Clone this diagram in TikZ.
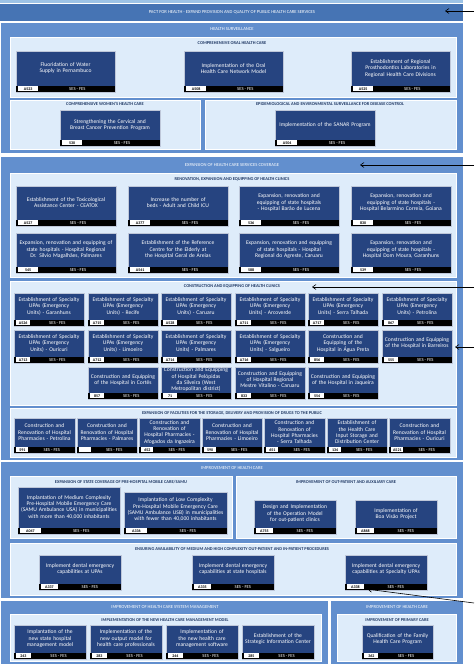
\documentclass[tikz,border=0pt]{standalone}
\usepackage{fontspec}
\setmainfont{Carlito}
\usetikzlibrary{calc,arrows.meta}
\hyphenpenalty=10000
\exhyphenpenalty=10000

\definecolor{topstrip}{RGB}{157,195,230}
\definecolor{titlebar}{RGB}{70,116,180}
\definecolor{outerblue}{RGB}{98,143,206}
\definecolor{lightblue}{RGB}{222,236,250}
\definecolor{actblue}{RGB}{38,68,128}
\definecolor{navy}{RGB}{31,56,100}

\tikzset{
    outerbox/.style={fill=outerblue},
    lightbox/.style={fill=lightblue, draw=white, line width=0.4pt},
    headtext/.style={text=white, font=\fontsize{4.6}{5}\selectfont, inner sep=0pt},
    grouptitle/.style={text=navy, font=\bfseries\fontsize{4.4}{5}\selectfont, inner sep=0pt},
    actbox/.style={fill=actblue, draw=white!70!actblue, line width=0.3pt, inner sep=0pt, outer sep=0pt},
    codestrip/.style={fill=black, inner sep=0pt, outer sep=0pt, minimum height=6.5pt},
    acttext/.style={text=white, align=center, inner sep=0pt, font=\fontsize{5.6}{6.3}\selectfont},
    codebox/.style={fill=white, text=black, inner sep=0pt, minimum height=4.6pt,
        font=\bfseries\fontsize{4}{4}\selectfont},
    sestext/.style={text=white, font=\fontsize{4.6}{5}\selectfont, inner sep=0pt},
    pointer/.style={draw=black, line width=0.6pt, -{Straight Barb[length=3.5pt,width=5pt]}}
}

% action box: name, x1, y1, x2, y2, text, code
\newcommand{\actbox}[7]{%
    \pgfmathsetmacro\bw{#4-#2}%
    \pgfmathsetmacro\bh{#5-#3}%
    \pgfmathsetmacro\tw{#4-#2-4}%
    \pgfmathsetmacro\cw{0.2*(#4-#2)}%
    \node[actbox, minimum width=\bw pt, minimum height=\bh pt, anchor=north west] (#1) at (#2,#3) {};
    \node[codestrip, minimum width=\bw pt, anchor=south] (#1-strip) at (#1.south) {};
    \node[acttext, text width=\tw pt] (#1-text) at ($(#1.north)!0.5!(#1-strip.north)$) {#6};
    \node[codebox, minimum width=\cw pt, anchor=west] (#1-code) at ([xshift=2pt]#1-strip.west) {#7};
    \node[sestext] (#1-ses) at ($(#1-strip.west)!0.62!(#1-strip.east)$) {SES - FES};
}

\begin{document}
\begin{tikzpicture}[x=1pt, y=-1pt]
    \useasboundingbox[fill=white] (0,0) rectangle (474,669);

    % title
    \fill[topstrip] (0,0) rectangle (463,3);
    \fill[titlebar] (0,4) rectangle (463,21);
    \node[headtext] (pact) at (232,12) {PACT FOR HEALTH - EXPAND PROVISION AND QUALITY OF PUBLIC HEALTH CARE SERVICES};

    % health surveillance
    \fill[outerbox] (1,23) rectangle (463,153);
    \node[headtext] (surv) at (232,29) {HEALTH SURVEILLANCE};
    \filldraw[lightbox] (10,37) rectangle (456,97);
    \node[grouptitle] (oral) at (232,43) {COMPREHENSIVE ORAL HEALTH CARE};
    \actbox{oral1}{16}{51}{115}{92}{Fluoridation of Water Supply in Pernambuco}{A523}
    \actbox{oral2}{184}{51}{283}{92}{Implementation of the Oral Health Care Network Model}{A508}
    \actbox{oral3}{351}{51}{450}{92}{Establishment of Regional Prosthodontics Laboratories in Regional Health Care Divisions}{A525}
    \filldraw[lightbox] (10,100) rectangle (200,149);
    \node[grouptitle] (women) at (105,104) {COMPREHENSIVE WOMEN'S HEALTH CARE};
    \actbox{women1}{60}{110}{160}{146}{Strengthening the Cervical and Breast Cancer Prevention Program}{530}
    \filldraw[lightbox] (205,100) rectangle (456,149);
    \node[grouptitle] (epi) at (330,104) {EPIDEMIOLOGICAL AND ENVIRONMENTAL SURVEILLANCE FOR DISEASE CONTROL};
    \actbox{epi1}{275}{110}{375}{146}{Implementation of the SANAR Program}{A504}

    % expansion of coverage
    \fill[outerbox] (1,157) rectangle (463,460);
    \node[headtext] (cover) at (232,165) {EXPANSION OF HEALTH CARE SERVICES COVERAGE};
    \filldraw[lightbox] (10,173) rectangle (456,277);
    \node[grouptitle] (reno) at (232,179) {RENOVATION, EXPANSION AND EQUIPPING OF HEALTH CLINICS};
    \actbox{reno1}{16}{186}{116}{226}{Establishment of the Toxicological Assistance Center - CEATOX}{A527}
    \actbox{reno2}{128}{186}{228}{226}{Increase the number of beds - Adult and Child ICU}{A377}
    \actbox{reno3}{239}{186}{339}{226}{Expansion, renovation and equipping of state hospitals - Hospital Barão de Lucena}{536}
    \actbox{reno4}{351}{186}{451}{226}{Expansion, renovation and equipping of state hospitals - Hospital Belarmino Correia, Goiana}{830}
    \actbox{reno5}{16}{233}{116}{273}{Expansion, renovation and equipping of state hospitals - Hospital Regional Dr. Sílvio Magalhães, Palmares}{545}
    \actbox{reno6}{128}{233}{228}{273}{Establishment of the Reference Centre for the Elderly at the Hospital Geral de Areias}{A541}
    \actbox{reno7}{239}{233}{339}{273}{Expansion, renovation and equipping of state hospitals - Hospital Regional do Agreste, Caruaru}{588}
    \actbox{reno8}{351}{233}{451}{273}{Expansion, renovation and equipping of state hospitals - Hospital Dom Moura, Garanhuns}{539}

    \filldraw[lightbox] (10,281) rectangle (456,405);
    \node[grouptitle] (cons) at (232,286) {CONSTRUCTION AND EQUIPPING OF HEALTH CLINICS};
    \actbox{cons1}{14}{293}{84}{326}{Establishment of Specialty UPAs (Emergency Units) - Garanhuns}{A526}
    \actbox{cons2}{88}{293}{158}{326}{Establishment of Specialty UPAs (Emergency Units) - Recife}{A715}
    \actbox{cons3}{161}{293}{231}{326}{Establishment of Specialty UPAs (Emergency Units) - Caruaru}{A528}
    \actbox{cons4}{235}{293}{305}{326}{Establishment of Specialty UPAs (Emergency Units) - Arcoverde}{A711}
    \actbox{cons5}{308}{293}{378}{326}{Establishment of Specialty UPAs (Emergency Units) - Serra Talhada}{A717}
    \actbox{cons6}{382}{293}{452}{326}{Establishment of Specialty UPAs (Emergency Units) - Petrolina}{867}
    \actbox{cons7}{14}{330}{84}{363}{Establishment of Specialty UPAs (Emergency Units) - Ouricuri}{A713}
    \actbox{cons8}{88}{330}{158}{363}{Establishment of Specialty UPAs (Emergency Units) - Limoeiro}{A712}
    \actbox{cons9}{161}{330}{231}{363}{Establishment of Specialty UPAs (Emergency Units) - Palmares}{A714}
    \actbox{cons10}{235}{330}{305}{363}{Establishment of Specialty UPAs (Emergency Units) - Salgueiro}{A716}
    \actbox{cons11}{308}{330}{378}{363}{Construction and Equipping of the Hospital in Água Preta}{856}
    \actbox{cons12}{382}{330}{452}{363}{Construction and Equipping of the Hospital in Barreiros}{555}
    \actbox{cons13}{88}{367}{158}{399}{Construction and Equipping of the Hospital in Cortês}{857}
    \actbox{cons14}{161}{367}{231}{399}{Construction and Equipping of Hospital Pelópidas da Silveira (West Metropolitan district)}{71}
    \actbox{cons15}{235}{367}{305}{399}{Construction and Equipping of Hospital Regional Mestre Vitalino - Caruaru}{833}
    \actbox{cons16}{308}{367}{378}{399}{Construction and Equipping of the Hospital in Jaqueira}{554}

    \filldraw[lightbox] (10,408) rectangle (456,457);
    \node[grouptitle] (drugs) at (232,413) {EXPANSION OF FACILITIES FOR THE STORAGE, DELIVERY AND PROVISION OF DRUGS TO THE PUBLIC};
    \actbox{drug1}{14}{418}{75}{453}{Construction and Renovation of Hospital Pharmacies - Petrolina}{591}
    \actbox{drug2}{77}{418}{137}{453}{Construction and Renovation of Hospital Pharmacies - Palmares}{}
    \actbox{drug3}{139}{418}{200}{453}{Construction and Renovation of Hospital Pharmacies - Afogados da Ingazeira}{652}
    \actbox{drug4}{202}{418}{262}{453}{Construction and Renovation of Hospital Pharmacies - Limoeiro}{590}
    \actbox{drug5}{264}{418}{325}{453}{Construction and Renovation of Hospital Pharmacies - Serra Talhada}{651}
    \actbox{drug6}{327}{418}{387}{453}{Establishment of the Health Care Input Storage and Distribution Center}{134}
    \actbox{drug7}{389}{418}{450}{453}{Construction and Renovation of Hospital Pharmacies - Ouricuri}{A521}

    % improvement of health care
    \fill[outerbox] (1,462) rectangle (463,598);
    \node[headtext] (improve) at (232,468) {IMPROVEMENT OF HEALTH CARE};
    \filldraw[lightbox] (10,476) rectangle (232,538);
    \node[grouptitle] (samu) at (121,482) {EXPANSION OF STATE COVERAGE OF PRE-HOSPITAL MOBILE CARE/SAMU};
    \actbox{samu1}{18}{487}{120}{534}{Implantation of Medium Complexity Pre-Hospital Mobile Emergency Care (SAMU Ambulance USA) in municipalities with more than 40,000 inhabitants}{A047}
    \actbox{samu2}{124}{492}{227}{534}{Implantation of Low Complexity Pre-Hospital Mobile Emergency Care (SAMU Ambulance USB) in municipalities with fewer than 40,000 inhabitants}{A336}
    \filldraw[lightbox] (236,476) rectangle (456,538);
    \node[grouptitle] (outpat) at (346,482) {IMPROVEMENT OF OUT-PATIENT AND AUXILIARY CARE};
    \actbox{outpat1}{254}{500}{336}{534}{Design and Implementation of the Operation Model for out-patient clinics}{A755}
    \actbox{outpat2}{355}{500}{437}{534}{Implementation of Boa Visão Project}{A868}
    \filldraw[lightbox] (10,543) rectangle (456,595);
    \node[grouptitle] (ensure) at (232,549) {ENSURING AVAILABILITY OF MEDIUM AND HIGH COMPLEXITY OUT-PATIENT AND IN-PATIENT PROCEDURES};
    \actbox{ensure1}{39}{555}{121}{590}{Implement dental emergency capabilities at UPAs}{A337}
    \actbox{ensure2}{192}{555}{274}{590}{Implement dental emergency capabilities at state hospitals}{A335}
    \actbox{ensure3}{345}{555}{427}{590}{Implement dental emergency capabilities at Specialty UPAs}{A338}

    % management and primary care
    \fill[outerbox] (1,601) rectangle (328,664);
    \node[headtext] (manage) at (165,607) {IMPROVEMENT OF HEALTH CARE SYSTEM MANAGEMENT};
    \filldraw[lightbox] (10,614) rectangle (321,661);
    \node[grouptitle] (model) at (165,620) {IMPLEMENTATION OF THE NEW HEALTH CARE MANAGEMENT MODEL};
    \actbox{model1}{14}{625}{86}{659}{Implantation of the new state hospital management model}{243}
    \actbox{model2}{90}{625}{162}{659}{Implementation of the new output model for health care professionals}{283}
    \actbox{model3}{166}{625}{238}{659}{Implementation of the new health care management software}{244}
    \actbox{model4}{242}{625}{314}{659}{Establishment of the Strategic Information Center}{285}
    \fill[outerbox] (331,601) rectangle (463,664);
    \node[headtext] (improve2) at (397,607) {IMPROVEMENT OF HEALTH CARE};
    \filldraw[lightbox] (337,614) rectangle (456,661);
    \node[grouptitle] (primary) at (397,620) {IMPROVEMENT OF PRIMARY CARE};
    \actbox{primary1}{362}{625}{433}{659}{Qualification of the Family Health Care Program}{362}

    % pointers
    \coordinate (tail1) at (474,11);
    \coordinate (tip1) at (445,11);
    \coordinate (tail2) at (474,165);
    \coordinate (tip2) at (360,165);
    \coordinate (tail3) at (474,287);
    \coordinate (tip3) at (312,287);
    \coordinate (tail4) at (474,347);
    \coordinate (tip4) at (455,347);
    \coordinate (tail5) at (474,603);
    \draw[pointer] (tail1) -- (tip1);
    \draw[pointer] (tail2) -- (tip2);
    \draw[pointer] (tail3) -- (tip3);
    \draw[pointer] (tail4) -- (tip4);
    \draw[pointer] (tail5) -- ([xshift=4pt]ensure3-code.south east);
\end{tikzpicture}
\end{document}
